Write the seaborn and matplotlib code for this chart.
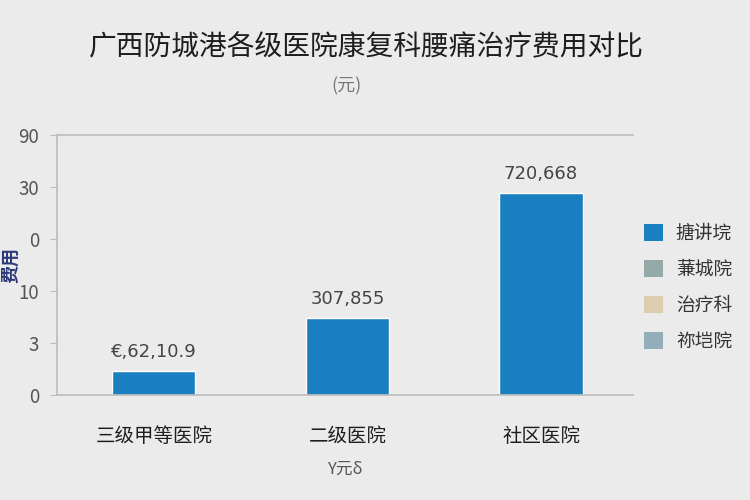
import pandas as pd
import matplotlib
matplotlib.use('Agg')
import matplotlib.pyplot as plt
from matplotlib.patches import Patch
import seaborn as sns

# data (y in axis units, tick labels as printed)
categories = ['三级甲等医院', '二级医院', '社区医院']
values = [0.46, 1.48, 3.88]
bar_labels = ['€,62,10.9', '307,855', '720,668']
ytick_pos = [0, 1, 2, 3, 4, 5]
ytick_labels = ['0', '3', '10', '0', '30', '90']
legend_names = ['搪讲垸', '蒹城院', '治疗科', '祢垲院']
legend_colors = ['#1a7fc1', '#93aaa9', '#dccdb1', '#93adb9']

bg = '#ebebeb'
sns.set_style('white')
plt.rcParams['font.family'] = ['Noto Sans CJK SC', 'DejaVu Sans']

df = pd.DataFrame({'医院': categories, '费用': values})

fig = plt.figure(figsize=(7.5, 5), dpi=100, facecolor=bg)
ax = fig.add_axes([0.076, 0.21, 0.768, 0.52])
ax.set_facecolor(bg)

sns.barplot(data=df, x='医院', y='费用', color='#1a7fc1', saturation=1,
            width=0.43, ax=ax)

for i, (v, lab) in enumerate(zip(values, bar_labels)):
    ax.text(i, v + 0.2, lab, ha='center', va='bottom', fontsize=13,
            color='#444444', family='DejaVu Sans')

ax.set_ylim(0, 5)
ax.set_xlim(-0.5, 2.475)
ax.set_yticks(ytick_pos)
ax.set_yticklabels(ytick_labels, fontsize=13.5, color='#555555')
ax.tick_params(axis='y', length=5, color='#bbbbbb', pad=8, left=True)
ax.tick_params(axis='x', length=0, pad=22, labelsize=14, labelcolor='#1e1e1e')
ax.set_xlabel('Y元δ', fontsize=12, color='#555555', labelpad=10)
ax.set_ylabel('')

for side in ['left', 'bottom', 'top']:
    ax.spines[side].set_color('#bbbbbb')
    ax.spines[side].set_linewidth(1.2)
ax.spines['right'].set_visible(False)

fig.text(0.488, 0.905, '广西防城港各级医院康复科腰痛治疗费用对比',
         ha='center', va='center', fontsize=20, color='#1e1e1e')
fig.text(0.462, 0.827, '(元)', ha='center', va='center', fontsize=13,
         color='#777777')
fig.text(0.014, 0.47, '费用', rotation=90, ha='center', va='center',
         fontsize=13, color='#2b3a78', fontweight='bold')

handles = [Patch(facecolor=c, edgecolor='none') for c in legend_colors]
ax.legend(handles, legend_names, loc='center left',
          bbox_to_anchor=(0.99, 0.415), frameon=False, fontsize=13.5,
          handlelength=1.0, handleheight=1.0, handletextpad=0.7,
          labelspacing=0.8, labelcolor='#333333')

fig.savefig('out.png', dpi=100, facecolor=bg)
plt.close(fig)
